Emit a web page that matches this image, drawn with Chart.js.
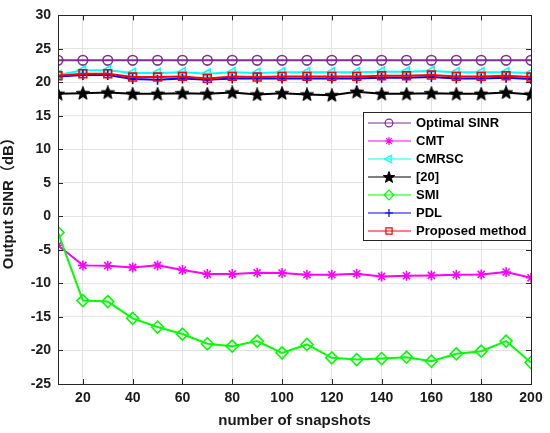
<!DOCTYPE html>
<html>
<head>
<meta charset="utf-8">
<script src="https://cdn.jsdelivr.net/npm/chart.js@4.4.1/dist/chart.umd.min.js"></script>
<style>
html,body{margin:0;padding:0;background:#fff;}
#wrap{width:550px;height:433px;}
</style>
</head>
<body>
<div id="wrap"><canvas id="c" width="550" height="433"></canvas></div>
<script>
// ---- data ----
const snapshots = [10,20,30,40,50,60,70,80,90,100,110,120,130,140,150,160,170,180,190,200];
const xTicks = [20,40,60,80,100,120,140,160,180,200];
const yTicks = [-25,-20,-15,-10,-5,0,5,10,15,20,25,30];
const seriesNames = ['Optimal SINR','CMT','CMRSC','[20]','SMI','PDL','Proposed method'];
const optimalSINR = [23.3,23.3,23.3,23.3,23.3,23.3,23.3,23.3,23.3,23.3,23.3,23.3,23.3,23.3,23.3,23.3,23.3,23.3,23.3,23.3];
const cmt = [-4.3,-7.3,-7.35,-7.6,-7.3,-8.0,-8.6,-8.6,-8.4,-8.45,-8.7,-8.7,-8.55,-8.95,-8.85,-8.8,-8.7,-8.65,-8.3,-9.15];
const cmrsc = [21.1,21.8,21.8,21.4,21.4,21.5,21.3,21.5,21.4,21.5,21.5,21.5,21.5,21.6,21.6,21.7,21.5,21.5,21.5,21.4];
const ref20 = [18.3,18.4,18.5,18.3,18.3,18.4,18.3,18.5,18.2,18.4,18.2,18.1,18.6,18.3,18.3,18.4,18.3,18.3,18.5,18.2];
const smi = [-2.4,-12.55,-12.7,-15.2,-16.5,-17.55,-19.0,-19.35,-18.6,-20.35,-19.1,-21.1,-21.35,-21.2,-21.0,-21.6,-20.5,-20.1,-18.6,-21.8];
const pdl = [20.9,21.1,21.1,20.5,20.4,20.6,20.4,20.6,20.6,20.6,20.6,20.6,20.6,20.7,20.7,20.8,20.6,20.6,20.7,20.5];
const proposed = [21.0,21.3,21.3,20.8,20.8,20.9,20.6,20.9,20.8,20.9,20.9,20.9,20.9,21.0,21.0,21.1,20.9,20.9,21.0,20.8];

// filled five-point star marker
function makeStar(size, color){
  const c = document.createElement('canvas');
  c.width = size; c.height = size;
  const g = c.getContext('2d');
  const cx = size/2, cy = size/2 + 0.5, R = size/2, r = R*0.42;
  g.beginPath();
  for(let i=0;i<10;i++){
    const rad = (i%2===0)?R:r;
    const a = -Math.PI/2 + i*Math.PI/5;
    const px = cx + rad*Math.cos(a), py = cy + rad*Math.sin(a);
    if(i===0) g.moveTo(px,py); else g.lineTo(px,py);
  }
  g.closePath();
  g.fillStyle = color; g.fill();
  g.strokeStyle = color; g.lineWidth = 1; g.stroke();
  return c;
}
const starImg = makeStar(14, '#000000');
const starImgSmall = makeStar(12, '#000000');

function pts(arr){ return snapshots.map((x,i)=>({x:x,y:arr[i]})); }

const styles = [
  {data: optimalSINR, color:'#7E2F8E', pointStyle:'circle', radius:4.8, rotation:0},
  {data: cmt, color:'#FF00FF', pointStyle:'star', radius:5, rotation:0},
  {data: cmrsc, color:'#00FFFF', pointStyle:'triangle', radius:5.5, rotation:-90},
  {data: ref20, color:'#000000', pointStyle:starImg, radius:7, rotation:0},
  {data: smi, color:'#00FF00', pointStyle:'rectRot', radius:6, rotation:0},
  {data: pdl, color:'#0000FF', pointStyle:'cross', radius:5, rotation:0},
  {data: proposed, color:'#FF0000', pointStyle:'rect', radius:5.5, rotation:0}
];

const datasets = styles.map((s,i)=>({
  label: seriesNames[i],
  data: pts(s.data),
  borderColor: s.color,
  backgroundColor: 'rgba(0,0,0,0)',
  borderWidth: 2,
  pointStyle: s.pointStyle,
  pointRadius: s.radius,
  pointRotation: s.rotation,
  pointBorderColor: s.color,
  pointBackgroundColor: 'rgba(0,0,0,0)',
  pointBorderWidth: 1.6,
  tension: 0,
  order: styles.length - i
}));

const FONT = 'Liberation Sans, Arial, sans-serif';
const TXT = '#1a1a1a';

// box, inward ticks and legend
const matlabPlugin = {
  id: 'matlab',
  afterDraw(chart){
    const ctx = chart.ctx;
    const a = chart.chartArea;
    const xs = chart.scales.x, ys = chart.scales.y;
    ctx.save();
    ctx.strokeStyle = '#262626';
    ctx.lineWidth = 1;
    ctx.strokeRect(Math.round(a.left)+0.5, Math.round(a.top)+0.5, Math.round(a.right-a.left), Math.round(a.bottom-a.top));
    ctx.beginPath();
    const tl = 5;
    xTicks.forEach(v=>{
      const px = Math.round(xs.getPixelForValue(v))+0.5;
      ctx.moveTo(px, a.bottom); ctx.lineTo(px, a.bottom - tl);
      ctx.moveTo(px, a.top); ctx.lineTo(px, a.top + tl);
    });
    yTicks.forEach(v=>{
      const py = Math.round(ys.getPixelForValue(v))+0.5;
      ctx.moveTo(a.left, py); ctx.lineTo(a.left + tl, py);
      ctx.moveTo(a.right, py); ctx.lineTo(a.right - tl, py);
    });
    ctx.stroke();

    // legend
    const lx = 363, ly = 112, lw = 168, lh = 128;
    ctx.fillStyle = '#ffffff';
    ctx.fillRect(lx, ly, lw, lh);
    ctx.strokeStyle = '#262626';
    ctx.strokeRect(lx+0.5, ly+0.5, lw, lh);
    ctx.font = 'bold 13px ' + FONT;
    ctx.textBaseline = 'middle';
    ctx.textAlign = 'left';
    chart.data.datasets.forEach((ds,i)=>{
      const y = ly + 11 + i*18;
      ctx.strokeStyle = ds.borderColor;
      ctx.lineWidth = 1.2;
      ctx.beginPath(); ctx.moveTo(lx+5, y); ctx.lineTo(lx+48, y); ctx.stroke();
      ctx.lineWidth = 1.2;
      ctx.strokeStyle = ds.pointBorderColor;
      ctx.fillStyle = 'rgba(0,0,0,0)';
      const isStar = ds.pointStyle===starImg;
      Chart.helpers.drawPoint(ctx, {pointStyle: isStar ? starImgSmall : ds.pointStyle, rotation: ds.pointRotation, radius: ds.pointRadius*0.8, borderWidth: 1.2}, lx+26, y);
      ctx.fillStyle = '#000000';
      ctx.fillText(ds.label, lx+53, y+0.5);
    });
    ctx.restore();
  }
};

new Chart(document.getElementById('c'), {
  type: 'line',
  data: { datasets: datasets },
  options: {
    responsive: false,
    animation: false,
    devicePixelRatio: 1,
    layout: { padding: { top: 11, right: 19, left: 0, bottom: 0 } },
    plugins: { legend: { display: false }, tooltip: { enabled: false } },
    scales: {
      x: {
        type: 'linear',
        min: 10, max: 200,
        afterBuildTicks: s => { s.ticks = xTicks.map(v=>({value:v})); },
        afterFit: s => { s.height = 49; },
        grid: { color: '#e3e3e3', lineWidth: 1, drawTicks: false },
        border: { display: false },
        ticks: { font: { family: FONT, size: 14, weight: 'bold' }, color: TXT, padding: 6, maxRotation: 0 },
        title: { display: true, text: 'number of snapshots', font: { family: FONT, size: 15, weight: 'bold' }, color: TXT, padding: { top: 0, bottom: 3 } }
      },
      y: {
        type: 'linear',
        min: -25, max: 30,
        afterBuildTicks: s => { s.ticks = yTicks.map(v=>({value:v})); },
        afterFit: s => { s.width = 58; },
        grid: { color: '#e3e3e3', lineWidth: 1, drawTicks: false },
        border: { display: false },
        ticks: { font: { family: FONT, size: 14, weight: 'bold' }, color: TXT, padding: 7 },
        title: { display: true, text: 'Output SINR（dB）', font: { family: FONT + ', Noto Sans CJK SC', size: 15, weight: 'bold' }, color: TXT, padding: { top: 0, bottom: 0 } }
      }
    }
  },
  plugins: [matlabPlugin]
});
</script>
</body>
</html>
